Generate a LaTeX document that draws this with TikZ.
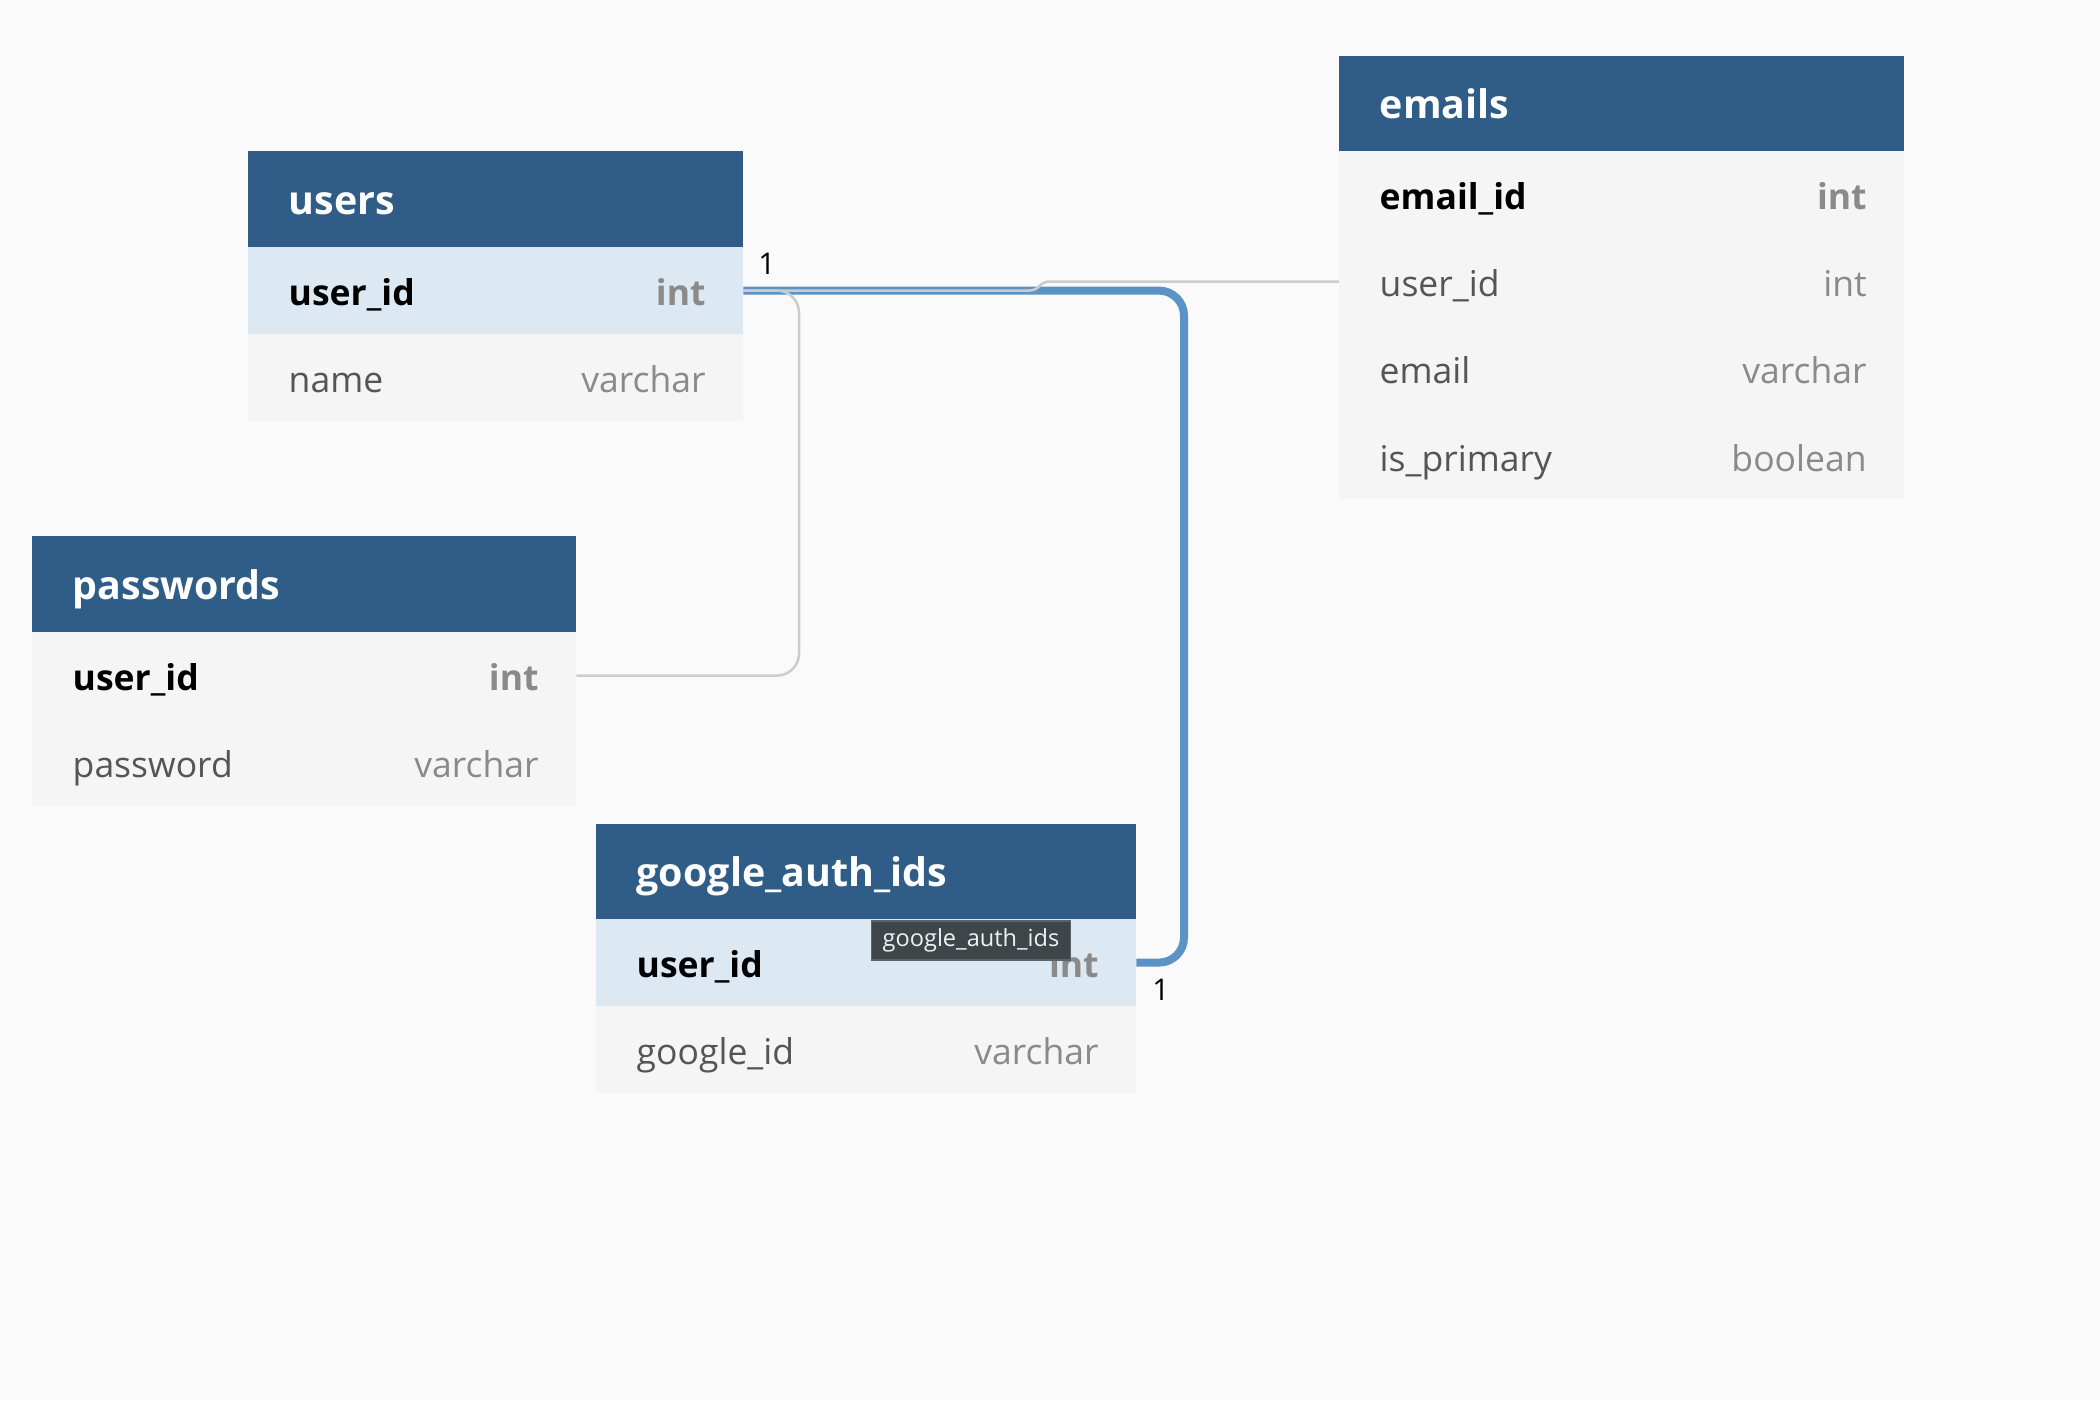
\documentclass[tikz,border=0pt]{standalone}
\usepackage{fontspec}
\setmainfont{Open Sans}
\usetikzlibrary{positioning}

\definecolor{canvas}{HTML}{FAFAFA}
\definecolor{hdblue}{HTML}{2F5D88}
\definecolor{keyblue}{HTML}{DCE9F3}
\definecolor{rowgray}{HTML}{F5F5F5}
\definecolor{fldgray}{HTML}{555555}
\definecolor{typegray}{HTML}{8A8A8A}
\definecolor{linkblue}{HTML}{5B93C6}
\definecolor{linkgray}{HTML}{CCCCCC}
\definecolor{tipbg}{HTML}{3F4649}
\definecolor{tipedge}{HTML}{5C6366}

\tikzset{
  tbl/.style={rectangle, inner sep=0pt, outer sep=0pt, minimum height=0.87cm},
  hdr/.style={tbl, fill=hdblue, minimum height=0.96cm},
  keyrow/.style={tbl, fill=keyblue},
  fld/.style={tbl, fill=rowgray},
  lbl/.style={inner sep=0pt, text height=1.07em, text depth=0.2em},
  tname/.style={lbl, anchor=west, text=white, font=\fontsize{11.2}{13}\selectfont\bfseries},
  fname/.style={lbl, anchor=west, text=fldgray, font=\fontsize{10.1}{12}\selectfont},
  ftype/.style={lbl, anchor=east, text=typegray, font=\fontsize{10.1}{12}\selectfont},
  pkname/.style={fname, text=black, font=\fontsize{10.1}{12}\selectfont\bfseries},
  pktype/.style={ftype, font=\fontsize{10.1}{12}\selectfont\bfseries},
  bluelink/.style={draw=linkblue, line width=0.08cm, rounded corners=0.25cm},
  graylink/.style={draw=linkgray, line width=0.025cm},
  card/.style={inner sep=0pt, font=\fontsize{8.5}{10}\selectfont},
  tip/.style={fill=tipbg, draw=tipedge, line width=0.3pt, text=white!94!black,
    minimum width=1.98cm, minimum height=0.39cm, inner sep=0pt,
    font=\fontsize{6.7}{8}\selectfont}
}

\begin{document}
\begin{tikzpicture}[x=0.01cm, y=-0.01cm]
  \fill[canvas] (0,0) rectangle (2100,1400);
  \useasboundingbox (0,0) rectangle (2100,1400);

  % users
  \node[hdr, minimum width=4.95cm, anchor=north west] (users) at (248,151) {};
  \node[tname] at ([xshift=4mm]users.west) {users};
  \node[keyrow, minimum width=4.95cm, below=0pt of users] (users-uid) {};
  \node[pkname] at ([xshift=4mm]users-uid.west) {user\_id};
  \node[pktype] at ([xshift=-3.7mm]users-uid.east) {int};
  \node[fld, minimum width=4.95cm, below=0pt of users-uid] (users-name) {};
  \node[fname] at ([xshift=4mm]users-name.west) {name};
  \node[ftype] at ([xshift=-3.7mm]users-name.east) {varchar};

  % emails
  \node[hdr, minimum width=5.65cm, minimum height=0.95cm, anchor=north west] (emails) at (1339,56) {};
  \node[tname] at ([xshift=4mm]emails.west) {emails};
  \node[fld, minimum width=5.65cm, below=0pt of emails] (emails-eid) {};
  \node[pkname] at ([xshift=4mm]emails-eid.west) {email\_id};
  \node[pktype] at ([xshift=-3.7mm]emails-eid.east) {int};
  \node[fld, minimum width=5.65cm, below=0pt of emails-eid] (emails-uid) {};
  \node[fname] at ([xshift=4mm]emails-uid.west) {user\_id};
  \node[ftype] at ([xshift=-3.7mm]emails-uid.east) {int};
  \node[fld, minimum width=5.65cm, below=0pt of emails-uid] (emails-mail) {};
  \node[fname] at ([xshift=4mm]emails-mail.west) {email};
  \node[ftype] at ([xshift=-3.7mm]emails-mail.east) {varchar};
  \node[fld, minimum width=5.65cm, below=0pt of emails-mail] (emails-prim) {};
  \node[fname] at ([xshift=4mm]emails-prim.west) {is\_primary};
  \node[ftype] at ([xshift=-3.7mm]emails-prim.east) {boolean};

  % passwords
  \node[hdr, minimum width=5.44cm, anchor=north west] (pw) at (32,536) {};
  \node[tname] at ([xshift=4mm]pw.west) {passwords};
  \node[fld, minimum width=5.44cm, below=0pt of pw] (pw-uid) {};
  \node[pkname] at ([xshift=4mm]pw-uid.west) {user\_id};
  \node[pktype] at ([xshift=-3.7mm]pw-uid.east) {int};
  \node[fld, minimum width=5.44cm, below=0pt of pw-uid] (pw-pass) {};
  \node[fname] at ([xshift=4mm]pw-pass.west) {password};
  \node[ftype] at ([xshift=-3.7mm]pw-pass.east) {varchar};

  % google_auth_ids
  \node[hdr, minimum width=5.40cm, minimum height=0.95cm, anchor=north west] (goog) at (596,824) {};
  \node[tname] at ([xshift=4mm]goog.west) {google\_auth\_ids};
  \node[keyrow, minimum width=5.40cm, below=0pt of goog] (goog-uid) {};
  \node[pkname] at ([xshift=4mm]goog-uid.west) {user\_id};
  \node[pktype] at ([xshift=-3.7mm]goog-uid.east) {int};
  \node[fld, minimum width=5.40cm, below=0pt of goog-uid] (goog-gid) {};
  \node[fname] at ([xshift=4mm]goog-gid.west) {google\_id};
  \node[ftype] at ([xshift=-3.7mm]goog-gid.east) {varchar};

  % links
  \coordinate (bluebend) at (1184,600);
  \coordinate (pwbend) at (799,480);
  \draw[bluelink] (users-uid.east) -| (bluebend) |- (goog-uid.east);
  \draw[graylink, rounded corners=0.22cm] (users-uid.east) -| (pwbend) |- (pw-uid.east);
  \draw[graylink, rounded corners=0.05cm] (users-uid.east) -- (1035,290.5) -- (1044,281.5) -- (emails-uid.west);

  \node[card] (c-users) at (767,264) {1};
  \node[card] (c-goog) at (1161,990) {1};

  \node[tip] (tooltip) at (971,940.5) {google\_auth\_ids};
\end{tikzpicture}
\end{document}
